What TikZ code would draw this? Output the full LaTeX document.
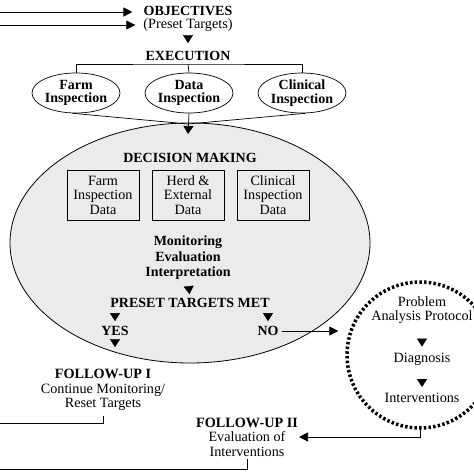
\documentclass[tikz,border=0pt]{standalone}
\usepackage{fontspec}
\setmainfont{Liberation Serif}
\usetikzlibrary{arrows.meta,shapes.geometric}
\begin{document}
\begin{tikzpicture}[x=1pt,y=-1pt,
  txt/.style={inner sep=0pt, align=center, font=\fontsize{14.2}{14.5}\selectfont},
  btxt/.style={inner sep=0pt, align=center, font=\fontsize{14}{15.5}\selectfont\bfseries},
  insp/.style={ellipse, draw, line width=0.7pt, minimum width=88pt, minimum height=40pt, inner sep=0pt, align=center, font=\fontsize{14}{13.5}\selectfont\bfseries},
  databox/.style={draw, line width=0.8pt, minimum width=72pt, minimum height=50pt, inner sep=0pt, align=center, font=\fontsize{14.2}{14.5}\selectfont},
  line/.style={line width=0.7pt},
  arr/.style={line, -{Triangle[length=9pt,width=9pt]}},
  tri/.style={tips, -{Triangle[length=8pt,width=10pt]}},
]
\useasboundingbox (0,0) rectangle (474,474);
\clip (0,0) rectangle (474,474);

% big decision ellipse
\node[ellipse, draw, line width=0.8pt, fill=black!8, minimum width=360pt, minimum height=240pt] (dm) at (190,243) {};

% top
\node[btxt] (obj) at (188,11) {OBJECTIVES};
\node[txt] (pre) at (188,25) {(Preset Targets)};
\coordinate (l1) at (-1,12);
\coordinate (l2) at (-1,25);
\draw[arr, shorten >=11pt] (l1) -- (l1 -| obj.west);
\draw[arr, shorten >=8pt] (l2) -- (l2 -| pre.west);

\node[btxt] (exe) at (188,56) {EXECUTION};
\path[tri, shorten >=8pt] (pre.south) -- (exe.north);

\coordinate (br) at (188,64);
\node[insp] (farm) at (76,93) {Farm\\Inspection};
\node[insp] (data) at (189,93) {Data\\Inspection};
\node[insp] (clin) at (302,93) {Clinical\\Inspection};
\draw[line] (farm.north) |- (br) -| (clin.north);
\draw[line] (br) -- (data.north);

\coordinate (meet) at (188,124);
\coordinate (dmin) at (188,134);
\draw[line] (farm.-100) -- (meet) -- (clin.-80);
\draw[line, -{Triangle[length=8pt,width=10pt]}] (data.south) -- (dmin);

% decision making content
\node[btxt] (dmt) at (190,158) {DECISION MAKING};
\node[databox] (b1) at (103,195) {Farm\\Inspection\\Data};
\node[databox] (b2) at (188,195) {Herd \&\\External\\Data};
\node[databox] (b3) at (273,195) {Clinical\\Inspection\\Data};

\node[btxt] (mon) at (188,258) {Monitoring\\Evaluation\\Interpretation};
\node[btxt] (ptm) at (190,303) {PRESET TARGETS MET};
\path[tri, shorten >=4pt] (mon.south) -- (ptm.north);

\node[btxt] (yes) at (115,331) {YES};
\node[btxt] (no) at (268,331) {NO};
\path[tri, shorten >=5pt] (ptm.south -| yes) -- (yes.north);
\path[tri, shorten >=5pt] (ptm.south -| no) -- (no.north);

% problem analysis circle
\node[circle, draw, dash pattern=on 2.5pt off 2.2pt, line width=3.5pt, minimum size=146pt] (circ) at (420,355) {};
\node[txt] (prob) at (422,310) {Problem\\Analysis Protocol};
\node[txt] (diag) at (422,359) {Diagnosis};
\node[txt] (intv) at (422,398) {Interventions};
\path[tri, shorten >=6pt] (prob.south) -- (diag.north);
\path[tri, shorten >=6pt] (diag.south) -- (intv.north);

\draw[arr, shorten <=3pt, shorten >=7pt] (no.east) -- (no.east -| circ.west);

% follow-ups
\node[txt] (fu1) at (103,390) {\textbf{FOLLOW-UP I}\\Continue Monitoring/\\Reset Targets};
\path[tri, shorten >=22pt] (yes.south) -- (yes.south |- fu1.north);
\coordinate (f1) at (-1,423);
\draw[line, shorten <=5pt] (fu1.south) |- (f1);

\node[txt] (fu2) at (247,437) {\textbf{FOLLOW-UP II}\\Evaluation of\\Interventions};
\draw[arr, shorten >=1pt] (circ.south) |- (fu2.east);
\coordinate (f2) at (-1,469);
\draw[line, shorten <=3pt] (fu2.south) |- (f2);
\end{tikzpicture}
\end{document}
